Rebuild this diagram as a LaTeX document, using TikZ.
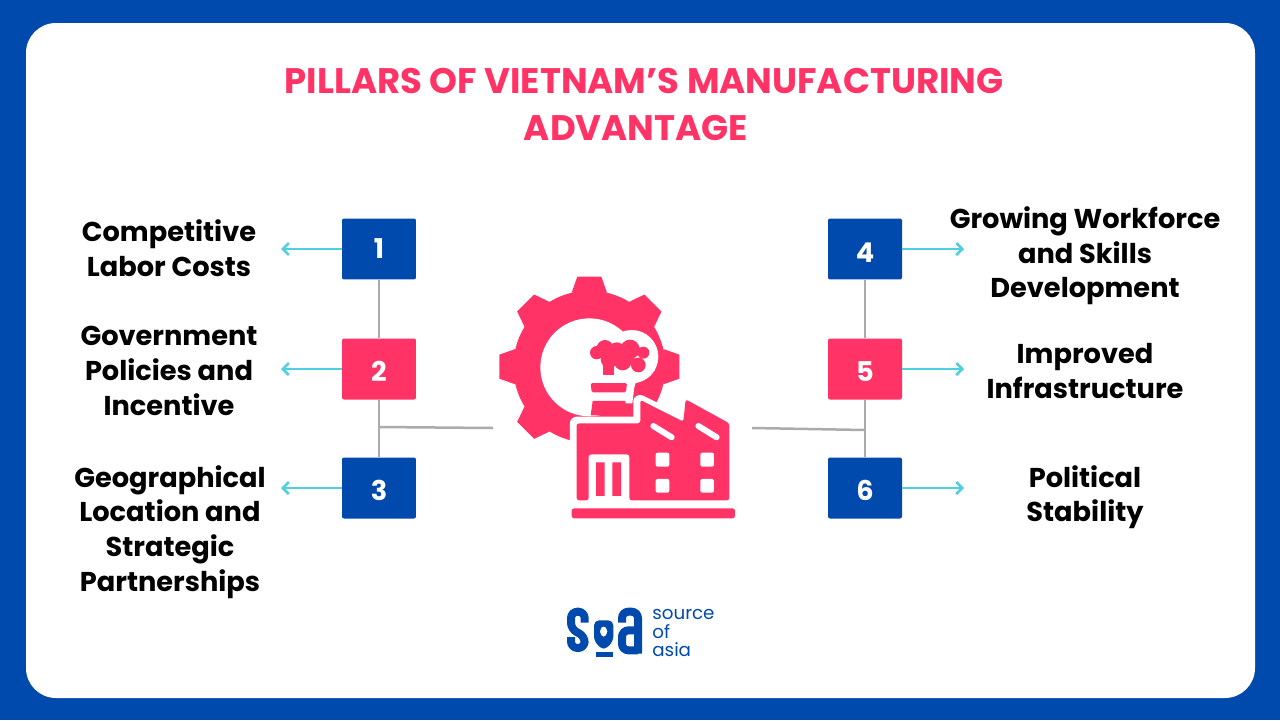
\documentclass[tikz,border=0pt]{standalone}
\usepackage{fontspec}
\setmainfont{Poppins}[BoldFont={Poppins Bold}]
\definecolor{soablue}{HTML}{004AAD}
\definecolor{soapink}{HTML}{FF3366}
\definecolor{soacyan}{HTML}{4FD0E0}
\definecolor{soagray}{HTML}{ABABAB}
\usetikzlibrary{arrows.meta}
\tikzset{
 numbox/.style={minimum width=1.48cm,minimum height=1.22cm,rounded corners=0.04cm,inner sep=0pt,text=white,text depth=0pt,text height=0.38cm,font=\fontsize{15.5}{15.5}\selectfont\bfseries},
 dropa/.style={text height=0.5cm},
 dropb/.style={text height=0.54cm},
 lbl/.style={align=center,inner sep=0pt,text=black,font=\fontsize{15.5}{19.7}\selectfont\bfseries},
 ttl/.style={align=center,inner sep=0pt,text=soapink,font=\fontsize{20.2}{27}\selectfont\bfseries},
 outarrow/.style={draw=soacyan,line width=0.05cm,-{Straight Barb[length=0.12cm,width=0.24cm,line width=0.05cm]}},
 graylink/.style={draw=soagray,line width=0.05cm},
}
\begin{document}
\begin{tikzpicture}[x=0.02cm,y=-0.02cm]
\useasboundingbox (0,0) rectangle (1280,720);
\fill[soablue] (0,0) rectangle (1280,720);
\fill[white,rounded corners=0.6cm] (26,23) rectangle (1255,698);
\node[ttl] (title) at (644,104.5) {PILLARS OF VIETNAM’S MANUFACTURING\\ADVANTAGE\hspace*{0.32cm}};
% gray links
\coordinate (hubL) at (379,427);
\coordinate (hubR) at (865,430);
\coordinate (iconL) at (493,428);
\coordinate (iconR) at (752,428);
\node[numbox,fill=soablue] (n1) at (379,249) {1};
\node[numbox,dropa,fill=soapink] (n2) at (379,369) {2};
\node[numbox,dropa,fill=soablue] (n3) at (379,488) {3};
\node[numbox,dropb,fill=soablue] (n4) at (865,249) {4};
\node[numbox,dropa,fill=soapink] (n5) at (865,369) {5};
\node[numbox,dropa,fill=soablue] (n6) at (865,488) {6};
\draw[graylink] (n1) -- (n2);\draw[graylink] (n2) -- (n3);
\draw[graylink] (n4) -- (n5);\draw[graylink] (n5) -- (n6);
\draw[graylink] (hubL) -- (iconL);
\draw[graylink] (hubR) -- (iconR);
% labels
\node[lbl] (l1) at (169,248) {Competitive\\Labor Costs};
\node[lbl] (l2) at (169,371) {Government\\Policies and\\Incentive};
\node[lbl] (l3) at (170,532) {Geographical\\Location and\\Strategic\\Partnerships};
\node[lbl] (l4) at (1085,256) {Growing Workforce\\and Skills\\Development};
\node[lbl] (l5) at (1085,371) {Improved\\Infrastructure};
\node[lbl] (l6) at (1085,497) {Political\\Stability};
\coordinate (a1) at (281,249);\coordinate (a2) at (281,369);\coordinate (a3) at (281,488);
\coordinate (a4) at (964,249);\coordinate (a5) at (964,369);\coordinate (a6) at (964,488);
\draw[outarrow] (n1) -- (a1);\draw[outarrow] (n2) -- (a2);\draw[outarrow] (n3) -- (a3);
\draw[outarrow] (n4) -- (a4);\draw[outarrow] (n5) -- (a5);\draw[outarrow] (n6) -- (a6);
% icon
\begin{scope}[shift={(480,260)},x=0.00667cm,y=-0.00667cm]
 \fill[soapink] (328,320) circle[radius=228];
 \foreach \a in {0,45,...,315}{
  \fill[soapink,rotate around={\a:(328,320)}] (275,98) -- (292,50) -- (364,50) -- (381,98) -- cycle;
 }
 \fill[white] (328,322) circle[radius=147];
 % white halo around the smoke
 \fill[white] (455,290) circle[radius=80];
 \fill[white] (430,340) -- (525,330) -- (505,352) -- (465,365) -- (457,430) -- (430,430) -- cycle;
 % factory halo
 \path[fill=white,draw=white,line width=0.27cm,line join=round]
   (290,490) -- (480,490) -- (480,425) -- (610,490) -- (620,425) -- (748,490) -- (748,720) -- (290,720) -- cycle;
 \fill[white] (270,490) rectangle (770,790);
 % smoke
 \fill[soapink] (350,278) circle[radius=20] (375,265) circle[radius=25] (410,272) circle[radius=25] (450,268) circle[radius=29] (490,278) circle[radius=18] (475,315) circle[radius=22] (428,305) circle[radius=26] (388,298) circle[radius=26] (435,285) circle[radius=30];
 \fill[soapink] (370,300) rectangle (402,346);
 % chimney
 \fill[soapink,rounded corners=0.03cm] (332,369) -- (441,369) -- (438,397) -- (335,397) -- cycle;
 \fill[soapink] (338,423) -- (436,423) -- (441,466) -- (332,466) -- cycle;
 % factory
 \fill[soapink,rounded corners=0.05cm] (290,490) -- (481,490) -- (481,420) -- (610,485) -- (617,418) -- (748,490) -- (748,721) -- (448,721) -- (448,583) -- (326,583) -- (326,721) -- (290,721) -- cycle;
 \fill[soapink] (348,607) rectangle (374,708) (397,607) rectangle (423,708);
 \fill[soapink,rounded corners=0.05cm] (275,745) rectangle (765,775);
 \fill[white,rounded corners=0.04cm] (527,578) rectangle (568,620) (661,578) rectangle (702,620) (527,657) rectangle (568,698) (661,657) rectangle (702,698);
 \draw[white,line width=0.12cm,line cap=round] (520,498) -- (575,532) (655,498) -- (710,532);
\end{scope}
% logo
\begin{scope}[shift={(560,602)},x=0.00667cm,y=-0.00667cm]
 \draw[soablue,line width=0.16cm,line join=round,rounded corners=0.13cm]
   (74,62) -- (74,29) -- (33,29) -- (33,82) -- (74,102) -- (74,138) -- (33,138) -- (33,105);
 \fill[soablue,even odd rule,rounded corners=0.1cm] (102,55) -- (160,55) -- (160,118) -- (131,146) -- (102,118) -- cycle
   (120,72) -- (142,72) -- (142,105) -- (120,105) -- cycle;
 \fill[soablue] (108,150) rectangle (158,166);
 \draw[soablue,line width=0.16cm,rounded corners=0.13cm]
   (186,62) -- (186,29) -- (234,29) -- (234,155);
 \draw[soablue,line width=0.16cm,rounded corners=0.13cm]
   (234,85) -- (186,85) -- (186,145) -- (234,145);
\end{scope}
\node[inner sep=0pt,align=left,anchor=west,text=soablue,font=\fontsize{10.4}{10.4}\selectfont] (brand) at (652,633) {source\\of\\asia};
\end{tikzpicture}
\end{document}
